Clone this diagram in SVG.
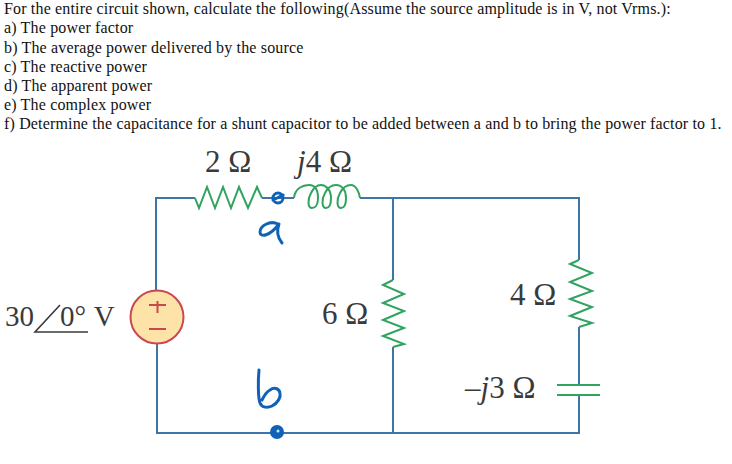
<svg xmlns="http://www.w3.org/2000/svg" width="732" height="464" viewBox="0 0 732 464">
<style>
.q{font-family:"Liberation Serif","Times New Roman",serif;font-size:16px;letter-spacing:.16px;fill:#111}
.v{font-family:"Liberation Serif","Times New Roman",serif;font-size:31px;word-spacing:0;fill:#3a3a3a}
.s{font-size:29px;word-spacing:1px}
.w{fill:none;stroke:#3f74a8;stroke-width:2}
.g{fill:none;stroke:#2fa35f;stroke-width:2}
.b{fill:none;stroke:#0f62b8;stroke-width:3;stroke-linecap:round;stroke-linejoin:round}
.d{fill:#0f62b8}
</style>
<rect width="732" height="464" fill="#fff"/>
<g id="question">
<text class="q" x="4" y="14">For the entire circuit shown, calculate the following(Assume the source amplitude is in V, not Vrms.):</text>
<text class="q" x="4" y="33">a) The power factor</text>
<text class="q" x="4" y="53">b) The average power delivered by the source</text>
<text class="q" x="4" y="72">c) The reactive power</text>
<text class="q" x="4" y="91">d) The apparent power</text>
<text class="q" x="4" y="110">e) The complex power</text>
<text class="q" x="4" y="129">f) Determine the capacitance for a shunt capacitor to be added between a and b to bring the power factor to 1.</text>
</g>
<g id="connectors">
<path class="w" d="M195 198H156V290M157 344V433H579V395M579 385V327M579 260V198H360M393 198V280M393 347V433M262 198H294"/>
</g>
<g id="resistor-2">
<path class="g" d="M195 198L199 208L207 187L215 208L223 187L231 208L239 187L248 208L257 187L262 198"/>
<text class="v" x="205" y="172">2 Ω</text>
</g>
<g id="inductor-j4">
<path class="g" d="M294 198C295 188 303 185 309 185C316 185 318 190 318 198C318 205 315 208 312 208C308 208 307 200 311 193C314 187 318 185 321 185C326 185 331 190 331 198C331 205 329 208 326 208C322 208 321 200 325 193C328 187 332 185 336 185C342 185 346 190 346 198C346 205 344 208 341 208C337 208 336 200 340 193C343 187 347 185 351 185C356 185 359 192 360 198"/>
<text class="v" x="297" y="172"><tspan font-style="italic">j</tspan>4 Ω</text>
</g>
<g id="source">
<circle cx="157" cy="317" r="26.500" fill="#fde3a7" stroke="#c9484f" stroke-width="2"/>
<path d="M149 305H166M157.500 301V313M149 329H166" fill="none" stroke="#c9484f" stroke-width="2"/>
<text class="v s" x="5" y="326">30</text>
<path d="M60 305L35 332H88" fill="none" stroke="#3a3a3a" stroke-width="1.600"/>
<text class="v s" x="60" y="326">0° V</text>
</g>
<g id="resistor-6">
<path class="g" d="M393 280L383 285L404 294L383 303L404 311L383 320L404 328L383 336L404 344L393 347"/>
<text class="v" x="322" y="324">6 Ω</text>
</g>
<g id="resistor-4">
<path class="g" d="M579 260L570 264L592 273L570 282L592 291L570 299L592 307L570 316L592 323L579 327"/>
<text class="v" x="510" y="305">4 Ω</text>
</g>
<g id="capacitor">
<path class="g" d="M557 385H600M557 395H600"/>
<text class="v" x="465" y="398">–<tspan font-style="italic">j</tspan>3 Ω</text>
</g>
<g id="node-a">
<circle cx="278" cy="198" r="5" fill="none" stroke="#0f62b8" stroke-width="3"/>
<path class="b" d="M273 200L283 195"/>
<path class="b" d="M278 224C270 220 260 226 260 232C260 238 270 236 279 224C276 232 278 238 282 243"/>
</g>
<g id="node-b">
<circle class="d" cx="277" cy="432" r="7"/>
<circle cx="278" cy="431" r="1.500" fill="#cfe0f2"/>
<path class="b" d="M259 370C258 380 258 398 260 403C262 408 268 408 272 406C278 403 281 397 280 393C279 388 274 387 270 390C266 392 264 396 262 400"/>
</g>
</svg>
